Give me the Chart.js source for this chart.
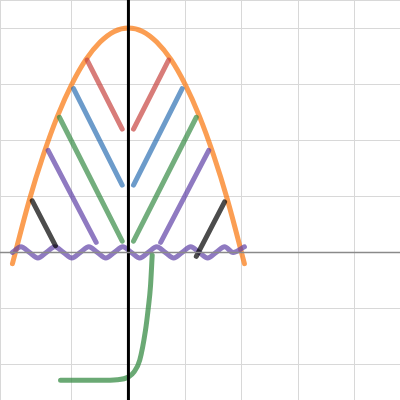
<!DOCTYPE html>
<html>
<head>
<script src="https://cdn.jsdelivr.net/npm/chart.js@4"></script>
<style>body{margin:0;background:#fff}</style>
</head>
<body>
<canvas id="grafico" width="400" height="400"></canvas>
<script>
// parabola y = 4 - x^2
const parabolaX = [-2.05,-1.75,-1.5,-1.25,-1,-0.75,-0.5,-0.25,0,0.25,0.5,0.75,1,1.25,1.5,1.75,2.05];
const parabolaY = [-0.2,0.94,1.75,2.44,3,3.44,3.75,3.94,4,3.94,3.75,3.44,3,2.44,1.75,0.94,-0.2];

// wavy line along the x axis
const waveX = [-2.05,-1.9,-1.75,-1.6,-1.45,-1.3,-1.15,-1,-0.85,-0.7,-0.55,-0.4,-0.25,-0.1,0.05,0.2,0.35,0.5,0.65,0.8,0.95,1.1,1.25,1.4,1.55,1.7,1.85,2.05];
const waveY = [0,0.1,0,-0.1,0,0.1,0,-0.1,0,0.1,0,-0.1,0,0.1,0,-0.1,0,0.1,0,-0.1,0,0.1,0,-0.1,0,0.1,0,0.1];

// exponential-ish green curve at the bottom
const expX = [-1.2,-0.5,-0.2,0,0.1,0.2,0.3,0.35,0.39,0.42];
const expY = [-2.28,-2.28,-2.27,-2.22,-2.13,-1.92,-1.4,-1.0,-0.6,-0.05];

// V segments: [x1, y1, x2, y2]
const segRojo = [[-0.73,3.43,-0.11,2.2],[0.09,2.2,0.71,3.43]];
const segAzul = [[-0.97,2.92,-0.11,1.2],[0.09,1.2,0.95,2.92]];
const segVerde = [[-1.22,2.41,-0.11,0.2],[0.09,0.2,1.2,2.41]];
const segMorado = [[-1.42,1.82,-0.57,0.18],[0.57,0.18,1.42,1.82]];
const segNegro = [[-1.7,0.92,-1.29,0.12],[1.2,-0.07,1.7,0.9]];

const pts = (xs, ys) => xs.map((x, i) => ({x: x, y: ys[i]}));
const lineSet = (data, color, extra) => Object.assign({
  data: data, showLine: true, borderColor: color, borderWidth: 5,
  pointRadius: 0, fill: false, borderCapStyle: 'round'
}, extra || {});

const datasets = [];
const addSegs = (segs, color) => segs.forEach(s => {
  datasets.push(lineSet([{x: s[0], y: s[1]}, {x: s[2], y: s[3]}], color));
});

// axes
datasets.push(lineSet([{x: -3, y: 0}, {x: 5, y: 0}], '#8a8a8a', {borderWidth: 1.5}));
datasets.push(lineSet([{x: 0, y: -3}, {x: 0, y: 5}], '#000', {borderWidth: 3}));

datasets.push(lineSet(pts(expX, expY), 'rgba(56,140,70,0.75)', {cubicInterpolationMode: 'monotone'}));
addSegs(segNegro, 'rgba(0,0,0,0.7)');
addSegs(segMorado, 'rgba(96,66,166,0.7)');
addSegs(segVerde, 'rgba(56,140,70,0.7)');
addSegs(segAzul, 'rgba(45,112,179,0.7)');
addSegs(segRojo, 'rgba(199,68,64,0.7)');
datasets.push(lineSet(pts(waveX, waveY), 'rgba(96,66,166,0.7)', {cubicInterpolationMode: 'monotone'}));
datasets.push(lineSet(pts(parabolaX, parabolaY), 'rgba(250,126,25,0.75)', {tension: 0.4}));

new Chart(document.getElementById('grafico').getContext('2d'), {
  type: 'scatter',
  data: {datasets: datasets},
  options: {
    responsive: false,
    animation: false,
    layout: {padding: 0},
    plugins: {legend: {display: false}, tooltip: {enabled: false}},
    scales: {
      x: {
        type: 'linear', min: -2.27, max: 4.8,
        ticks: {display: false, stepSize: 1},
        grid: {color: '#d8d8d8', drawTicks: false},
        border: {display: false}
      },
      y: {
        type: 'linear', min: -2.63, max: 4.5,
        ticks: {display: false, stepSize: 1},
        grid: {color: '#d8d8d8', drawTicks: false},
        border: {display: false}
      }
    }
  }
});
</script>
</body>
</html>
